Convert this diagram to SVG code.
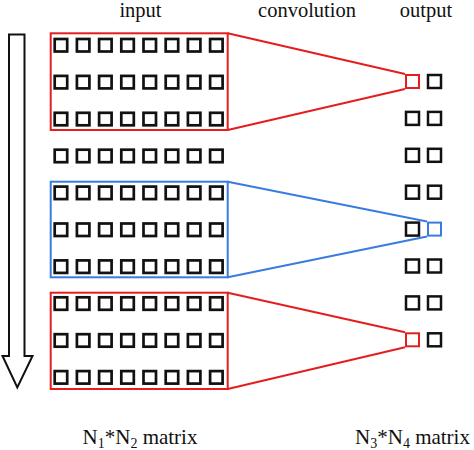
<svg xmlns="http://www.w3.org/2000/svg" width="474" height="450" viewBox="0 0 474 450">
<defs>
<style>
.cell{fill:none;stroke:#111;stroke-width:2.7}
.ocell{fill:none;stroke:#111;stroke-width:2.5}
.red{fill:none;stroke:#e41e1e;stroke-width:2}
.blue{fill:none;stroke:#3a7be0;stroke-width:2}
.lbl{font-family:"Liberation Serif","Times New Roman",serif;font-size:21px;fill:#111;text-anchor:middle}
.top{font-size:20.5px}
</style>
<g id="row">
<rect class="cell" x="54.7" y="0" width="12.5" height="12.5"/>
<rect class="cell" x="76.9" y="0" width="12.5" height="12.5"/>
<rect class="cell" x="99.1" y="0" width="12.5" height="12.5"/>
<rect class="cell" x="121.3" y="0" width="12.5" height="12.5"/>
<rect class="cell" x="143.5" y="0" width="12.5" height="12.5"/>
<rect class="cell" x="165.7" y="0" width="12.5" height="12.5"/>
<rect class="cell" x="187.9" y="0" width="12.5" height="12.5"/>
<rect class="cell" x="210.1" y="0" width="12.5" height="12.5"/>
</g>
</defs>
<rect width="474" height="450" fill="#fff"/>

<g id="arrow">
<polygon points="9,34.5 24.5,34.5 24.5,356 32.5,356 17.3,387.5 2.5,356 9,356" fill="#fff" stroke="#111" stroke-width="2"/>
</g>

<g id="input">
<use href="#row" y="39"/>
<use href="#row" y="75.9"/>
<use href="#row" y="112.8"/>
<use href="#row" y="149.7"/>
<use href="#row" y="186.6"/>
<use href="#row" y="223.5"/>
<use href="#row" y="260.4"/>
<use href="#row" y="297.3"/>
<use href="#row" y="334.2"/>
<use href="#row" y="371.1"/>
</g>

<g id="output">
<rect class="ocell" x="406" y="75" width="13" height="13" style="stroke:#e41e1e;stroke-width:2"/>
<rect class="ocell" x="428" y="75" width="13" height="13"/>
<rect class="ocell" x="406" y="111.9" width="13" height="13"/>
<rect class="ocell" x="428" y="111.9" width="13" height="13"/>
<rect class="ocell" x="406" y="148.8" width="13" height="13"/>
<rect class="ocell" x="428" y="148.8" width="13" height="13"/>
<rect class="ocell" x="406" y="185.7" width="13" height="13"/>
<rect class="ocell" x="428" y="185.7" width="13" height="13"/>
<rect class="ocell" x="406" y="222.6" width="13" height="13"/>
<rect class="ocell" x="428" y="222.6" width="13" height="13" style="stroke:#3a7be0;stroke-width:2"/>
<rect class="ocell" x="406" y="259.5" width="13" height="13"/>
<rect class="ocell" x="428" y="259.5" width="13" height="13"/>
<rect class="ocell" x="406" y="296.4" width="13" height="13"/>
<rect class="ocell" x="428" y="296.4" width="13" height="13"/>
<rect class="ocell" x="406" y="333.3" width="13" height="13" style="stroke:#e41e1e;stroke-width:2"/>
<rect class="ocell" x="428" y="333.3" width="13" height="13"/>
</g>

<g id="window1"><rect class="red" x="50.7" y="33.3" width="177" height="96.7"/></g>
<g id="window2"><rect class="blue" x="50.7" y="181.7" width="177" height="95.6"/></g>
<g id="window3"><rect class="red" x="50.7" y="292.7" width="177" height="96.3"/></g>

<g id="connectors">
<line class="red" x1="227.7" y1="33.3" x2="405" y2="74"/>
<line class="red" x1="227.7" y1="130" x2="405" y2="89"/>
<line class="blue" x1="227.7" y1="181.7" x2="427" y2="221.6"/>
<line class="blue" x1="227.7" y1="277.3" x2="427" y2="236.6"/>
<line class="red" x1="227.7" y1="292.7" x2="405" y2="332.3"/>
<line class="red" x1="227.7" y1="389" x2="405" y2="347.3"/>
</g>

<g id="labels">
<text class="lbl top" x="140.5" y="17">input</text>
<text class="lbl top" x="307" y="17">convolution</text>
<text class="lbl top" x="426" y="17">output</text>
<text class="lbl" x="140" y="444">N<tspan font-size="14" dy="4">1</tspan><tspan dy="-4">*N</tspan><tspan font-size="14" dy="4">2</tspan><tspan dy="-4"> matrix</tspan></text>
<text class="lbl" x="412.5" y="444">N<tspan font-size="14" dy="4">3</tspan><tspan dy="-4">*N</tspan><tspan font-size="14" dy="4">4</tspan><tspan dy="-4"> matrix</tspan></text>
</g>
</svg>
